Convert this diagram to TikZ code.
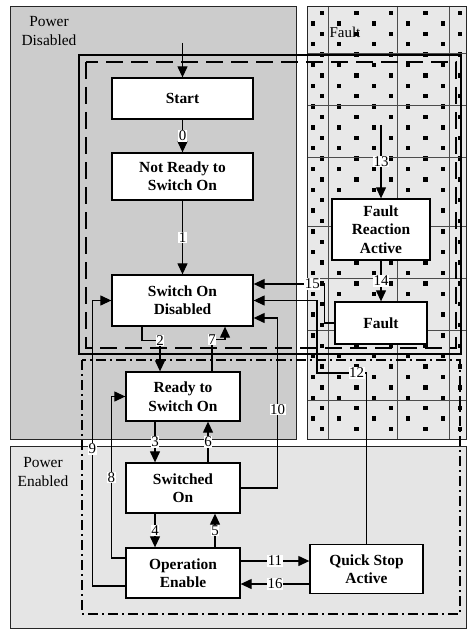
\documentclass[tikz,border=0pt]{standalone}
\usepackage{fontspec}
\setmainfont{Liberation Serif}
\usetikzlibrary{arrows.meta,calc}

\definecolor{pdgray}{gray}{0.80}
\definecolor{pegray}{gray}{0.90}
\definecolor{fltgray}{gray}{0.91}

\tikzset{
  state/.style={draw, fill=white, line width=1.3bp, align=center, inner sep=0pt,
    font=\fontsize{15.5}{18.5}\selectfont\bfseries},
  lbl/.style={fill=white, inner sep=0.6bp, font=\fontsize{15}{15}\selectfont},
  trans/.style={->, line width=1.2bp},
  zone/.style={draw=black!85, line width=0.9bp},
  zonetext/.style={align=center, font=\fontsize{15.5}{18.5}\selectfont},
}

\begin{document}
\begin{tikzpicture}[x=1bp, y=-1bp, >={Triangle[length=11bp,width=10bp]}]
  \useasboundingbox (0,0) rectangle (475,636);

  % zones
  \fill[pdgray] (10,6) rectangle (296,439);
  \fill[fltgray] (307,6) rectangle (466,439);
  \fill[pegray] (10,446) rectangle (466,628);
  \node[zonetext] (pdtext) at (49,31) {Power\\Disabled};
  \node[zonetext] (petext) at (43,472) {Power\\Enabled};
  \node[zonetext, font=\fontsize{15}{15}\selectfont] (flttext) at (345,32) {Fault};

  % dotted fill of the fault zone
  \foreach \yy in {13,33.8,...,437}
    \foreach \xx in {322,356.5,...,462}
      \fill (\xx-2.2,\yy-2.2) rectangle ++(4.4,4.4);
  \foreach \yy in {23.4,44.2,...,437}
    \foreach \xx in {313,339.25,373.75,...,462}
      \fill (\xx-2.2,\yy-2.2) rectangle ++(4.4,4.4);
  \foreach \gx in {328,397,449}
    \draw[black!70, line width=0.5bp] (\gx,6) -- (\gx,439);
  \foreach \gy in {53,105,157,226,278,330,400}
    \draw[black!70, line width=0.5bp] (307,\gy) -- (466,\gy);

  \draw[zone] (10,6) rectangle (296,439);
  \draw[zone] (307,6) rectangle (466,439);
  \draw[zone] (10,446) rectangle (466,628);

  % frames
  \draw[line width=2.4bp] (79,55) rectangle (461,354);
  \draw[line width=2.4bp, dash pattern=on 17bp off 8bp] (86,62) rectangle (456,348);
  \draw[line width=2bp, dash pattern=on 10bp off 4bp on 2bp off 4bp] (82,360) rectangle (460,614);

  % states
  \node[state, minimum width=141bp, minimum height=41bp] (start) at (182.5,98.5) {Start};
  \node[state, minimum width=141bp, minimum height=47bp] (notready) at (182.5,176.5) {Not Ready to\\Switch On};
  \node[state, minimum width=141bp, minimum height=51bp] (sod) at (182.5,300.5) {Switch On\\Disabled};
  \node[state, minimum width=114bp, minimum height=49bp] (ready) at (183,396.5) {Ready to\\Switch On};
  \node[state, minimum width=114bp, minimum height=50bp] (swon) at (183,488) {Switched\\On};
  \node[state, minimum width=114bp, minimum height=50bp] (opena) at (183,573) {Operation\\Enable};
  \node[state, minimum width=113bp, minimum height=49bp] (qsa) at (366.5,569) {Quick Stop\\Active};
  \node[state, minimum width=98bp, minimum height=61bp] (fra) at (381,229.5) {Fault\\Reaction\\Active};
  \node[state, minimum width=92bp, minimum height=42bp] (fault) at (381,323) {Fault};

  % transitions
  \coordinate (entry) at (182.5,43);
  \coordinate (f13) at (381,125);
  \coordinate (k12) at (317,373);
  \coordinate (a11) at ($(opena.east)+(0,-12)$);
  \coordinate (a16) at ($(qsa.west)+(0,15)$);

  \draw[trans] (entry) -- (start);
  \draw[trans] (start) -- node[lbl]{0} (notready);
  \draw[trans] (notready) -- node[lbl]{1} (sod);
  \draw[trans] ($(sod.south)+(-40.5,0)$) -- ++(0,14) -| node[lbl, pos=0.5]{2} ($(ready.north)+(-23,0)$);
  \draw[trans] ($(ready.north)+(29,0)$) -- node[lbl, pos=1]{7} ++(0,-32) -| ($(sod.south)+(42.5,0)$);
  \draw[trans] ($(ready.south)+(-28,0)$) -- node[lbl]{3} ($(swon.north)+(-28,0)$);
  \draw[trans] ($(swon.north)+(25,0)$) -- node[lbl]{6} ($(ready.south)+(25,0)$);
  \draw[trans] ($(swon.south)+(-28,0)$) -- node[lbl]{4} ($(opena.north)+(-28,0)$);
  \draw[trans] ($(opena.north)+(32,0)$) -- node[lbl]{5} ($(swon.south)+(32,0)$);
  \draw[trans] ($(opena.west)+(0,-15)$) -- ++(-14,0) |- node[lbl, pos=0.25]{8} (ready.west);
  \draw[trans] ($(opena.west)+(0,13)$) -- ++(-33,0) |- node[lbl, pos=0.24]{9} (sod.west);
  \draw[trans] (swon.east) -- ++(37,0) |- node[lbl, pos=0.23]{10} ($(sod.east)+(0,17.5)$);
  \draw[trans] (fault.west) -- ++(-10,0) |- node[lbl, pos=0.585]{15} ($(sod.east)+(0,-16.5)$);
  \draw[trans] (qsa.north) |- node[lbl, pos=0.6]{12} (k12) |- (sod.east);
  \draw[trans] (f13) -- node[lbl]{13} (fra);
  \draw[trans] (fra) -- node[lbl]{14} (fault);
  \draw[trans] (a11) -- node[lbl]{11} (a11 -| qsa.west);
  \draw[trans] (a16) -- node[lbl]{16} (a16 -| opena.east);
\end{tikzpicture}
\end{document}
